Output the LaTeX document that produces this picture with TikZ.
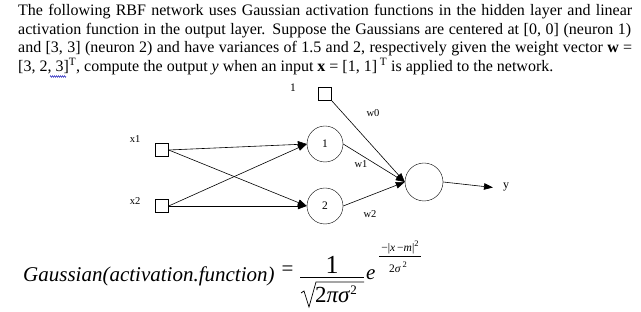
\documentclass[tikz,border=0pt]{standalone}
\usepackage{fontspec}
\setmainfont{Liberation Serif}
\usetikzlibrary{arrows.meta,decorations.pathmorphing}
\begin{document}
\begin{tikzpicture}[x=1pt,y=-1pt,
  txt/.style={anchor=base west,inner sep=0pt,font=\fontsize{16}{19}\selectfont},
  inbox/.style={draw,minimum size=13pt,inner sep=0pt},
  neuron/.style={draw,circle,inner sep=0pt},
  lbl/.style={inner sep=0pt,font=\fontsize{10.5}{12}\selectfont},
  arr/.style={-{Triangle[length=9pt,width=6.5pt]},line width=0.6pt},
  big/.style={inner sep=0pt,font=\fontsize{21}{25}\selectfont}]
\useasboundingbox (0,0) rectangle (641,312);
% question text
\node[txt] (l1) at (18,16) {\makebox[614pt][s]{The following RBF network uses Gaussian activation functions in the hidden layer and linear}};
\node[txt] (l2) at (18,34.5) {\makebox[613pt][s]{activation function in the output layer. Suppose the Gaussians are centered at [0, 0] (neuron 1)}};
\node[txt] (l3) at (18,53) {\makebox[614pt][s]{and [3, 3] (neuron 2) and have variances of 1.5 and 2, respectively given the weight vector \textbf{w} =}};
\node[txt] (l4) at (18,72) {[3, 2, 3]\textsuperscript{T}, compute the output \textit{y} when an input \textbf{x} = [1, 1]\,\textsuperscript{T} is applied to the network.};
\coordinate (sq1) at (50,76.5);
\coordinate (sq2) at (66,76.5);
\draw[blue!70!black,line width=0.4pt,decorate,decoration={zigzag,amplitude=0.8pt,segment length=2pt}] (sq1) -- (sq2);
% network
\node[inbox] (b0) at (325,94) {};
\node[lbl,font=\fontsize{11.5}{13}\selectfont] (one) at (293,88) {1};
\node[inbox] (in1) at (162,150) {};
\node[inbox] (in2) at (162,206) {};
\node[lbl] (x1) at (135,139) {x1};
\node[lbl] (x2) at (135,201) {x2};
\node[neuron,minimum size=36pt,font=\fontsize{11.5}{13}\selectfont] (h1) at (325,144) {1};
\node[neuron,minimum size=36pt,font=\fontsize{11.5}{13}\selectfont] (h2) at (325,206) {2};
\node[neuron,minimum size=38pt] (out) at (424,182) {};
\coordinate (yend) at (493,187.5);
\node[lbl,font=\fontsize{12}{13}\selectfont] (ylab) at (506,187) {y};
\node[lbl] (w0) at (373,113) {w0};
\node[lbl] (w1) at (361,164) {w1};
\node[lbl] (w2) at (370,214) {w2};
\draw[arr] (in1.east) -- (h1.west);
\draw[arr] (in1.east) -- (h2.west);
\draw[arr] (in2.east) -- (h1.west);
\draw[arr] (in2.east) -- (h2.west);
\draw[arr] (b0.south east) -- (out.west);
\draw[arr] (h1.east) -- (out.west);
\draw[arr] (h2.east) -- (out.west);
\draw[arr] (out.east) -- (yend);
% formula
\node[big,anchor=base west] (gauss) at (23,282) {\itshape Gaussian(activation.function)};
\node[big] (eq) at (287.5,271) {=};
\node[big,anchor=base,font=\fontsize{26}{30}\selectfont] (num) at (332,274) {1};
\coordinate (fb1) at (300,277.5);
\coordinate (fb2) at (364,277.5);
\draw[line width=0.8pt] (fb1) -- (fb2);
\coordinate (r0) at (301,293);
\coordinate (r1) at (304,291);
\coordinate (r2) at (309,307);
\coordinate (r3) at (316,282);
\coordinate (r4) at (364,282);
\draw[line width=0.7pt,line join=miter] (r0) -- (r1) -- (r2) -- (r3) -- (r4);
\node[big,anchor=base west,font=\fontsize{23}{27}\selectfont] (rad) at (315,303) {2\textit{πσ}\raisebox{8pt}{\fontsize{13}{15}\selectfont 2}};
\node[big,anchor=base west] (ee) at (366,280) {\textit{e}};
\coordinate (eb1) at (379,256.5);
\coordinate (eb2) at (421,256.5);
\draw[line width=0.6pt] (eb1) -- (eb2);
\node[inner sep=0pt,anchor=base,font=\fontsize{11.5}{13}\selectfont] (enum) at (400,252) {−|\textit{x}\,−\textit{m}|\raisebox{5pt}{\fontsize{8.5}{9}\selectfont 2}};
\node[inner sep=0pt,anchor=base,font=\fontsize{11.5}{13}\selectfont] (eden) at (398,273) {2\textit{σ}\,\raisebox{5pt}{\fontsize{8.5}{9}\selectfont 2}};
\end{tikzpicture}
\end{document}
